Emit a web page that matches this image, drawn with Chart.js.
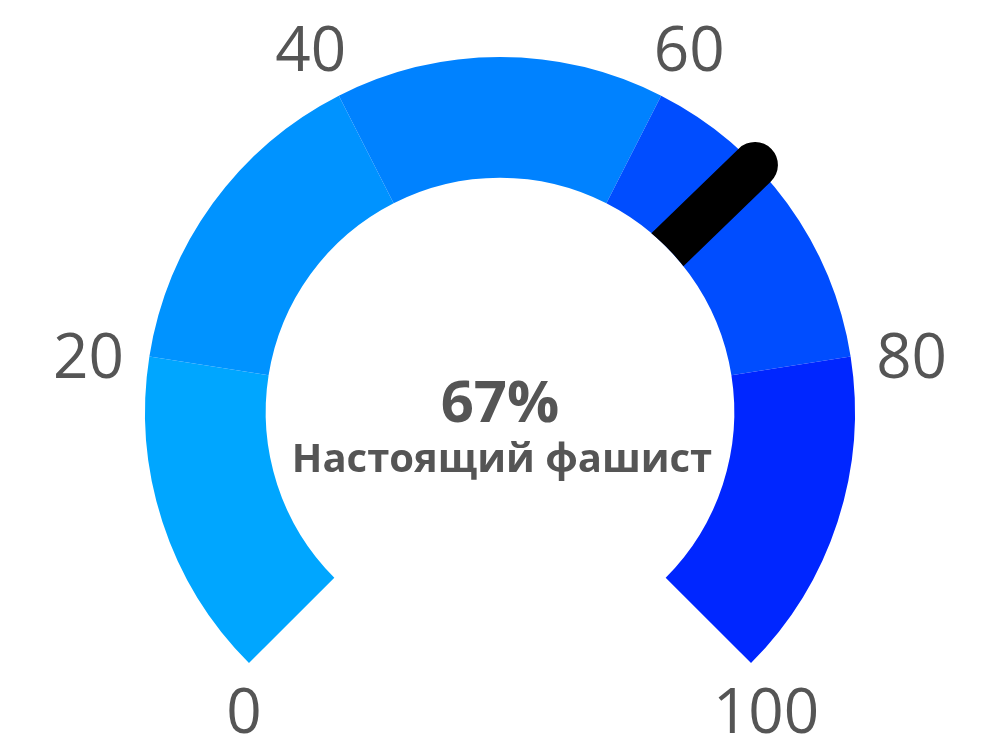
<!DOCTYPE html>
<html>
<head>
<meta charset="utf-8">
<script src="https://cdn.jsdelivr.net/npm/chart.js@4"></script>
<style>
    html, body { margin: 0; padding: 0; background: #fff; }
    #wrap { width: 1000px; height: 753px; }
</style>
</head>
<body>
<div id="wrap"><canvas id="gauge"></canvas></div>
<script>
const bandNames = ["0-20", "20-40", "40-60", "60-80", "80-100"];
const bandSizes = [20, 20, 20, 20, 20];
const bandColors = ["#00a6ff", "#0093ff", "#0082ff", "#004dff", "#0026ff"];
const tickLabels = [0, 20, 40, 60, 80, 100];
const gaugeMax = 100;
const needleValue = 67;
const centerLines = ["67%", "Настоящий фашист"];

const START_DEG = -135;
const SWEEP_DEG = 270;
const TEXT_COLOR = "#555555";
const FONT = "'Open Sans', 'Noto Sans', sans-serif";

function valueToAngle(value) {
    // radians, 0 = straight up, clockwise
    return (START_DEG + (value / gaugeMax) * SWEEP_DEG) * Math.PI / 180;
}

const gaugePlugin = {
    id: "gaugeExtras",
    afterDatasetsDraw(chart) {
        const arc = chart.getDatasetMeta(0).data[0];
        if (!arc) return;
        const { x: cx, y: cy, innerRadius, outerRadius } = arc;
        const ctx = chart.ctx;

        // needle, clipped so it starts on the inner edge of the ring
        const a = valueToAngle(needleValue);
        const dx = Math.sin(a);
        const dy = -Math.cos(a);
        ctx.save();
        ctx.beginPath();
        ctx.rect(0, 0, chart.width, chart.height);
        ctx.arc(cx, cy, innerRadius, 0, Math.PI * 2, true);
        ctx.clip("evenodd");
        ctx.beginPath();
        ctx.moveTo(cx + dx * (innerRadius - 30), cy + dy * (innerRadius - 30));
        ctx.lineTo(cx + dx * outerRadius, cy + dy * outerRadius);
        ctx.lineWidth = 46;
        ctx.lineCap = "round";
        ctx.strokeStyle = "#000000";
        ctx.stroke();
        ctx.restore();

        // tick labels round the ring
        ctx.save();
        ctx.fillStyle = TEXT_COLOR;
        ctx.font = "400 62px " + FONT;
        ctx.textAlign = "center";
        ctx.textBaseline = "middle";
        tickLabels.forEach((t) => {
            const ta = valueToAngle(t);
            const ux = Math.sin(ta);
            const uy = -Math.cos(ta);
            const w = ctx.measureText(String(t)).width;
            let lx, ly;
            if (uy > 0) {
                // below the centre: sit under the end of the ring
                lx = cx + ux * outerRadius + ux * w * 0.2;
                ly = cy + uy * outerRadius + 50;
            } else {
                const r = outerRadius * 1.144;
                lx = cx + ux * r + ux * w * 0.15;
                ly = cy + uy * r + (1 - Math.abs(uy)) * 12;
            }
            ctx.fillText(String(t), lx, ly + 2);
        });

        // centre text
        ctx.textBaseline = "alphabetic";
        ctx.font = "700 58px " + FONT;
        ctx.fillText(centerLines[0], cx, cy + 10);
        ctx.font = "700 40px " + FONT;
        ctx.fillText(centerLines[1], cx + 2, cy + 60);
        ctx.restore();
    },
};

new Chart(document.getElementById("gauge"), {
    type: "doughnut",
    data: {
        labels: bandNames,
        datasets: [
            {
                data: bandSizes,
                backgroundColor: bandColors,
                borderWidth: 0,
                hoverOffset: 0,
            },
        ],
    },
    options: {
        responsive: true,
        maintainAspectRatio: false,
        animation: false,
        rotation: START_DEG,
        circumference: SWEEP_DEG,
        cutout: "66%",
        layout: {
            padding: { top: 57, bottom: 90, left: 0, right: 0 },
        },
        events: [],
        plugins: {
            legend: { display: false },
            tooltip: { enabled: false },
        },
    },
    plugins: [gaugePlugin],
});
</script>
</body>
</html>
